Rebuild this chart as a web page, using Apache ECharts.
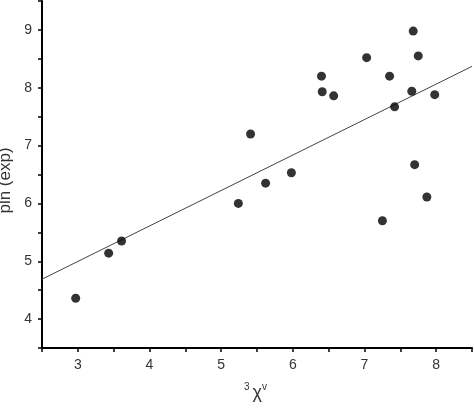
<!DOCTYPE html>
<html lang="en">
<head>
  <meta charset="UTF-8" />
  <title>pln (exp) vs 3χv</title>
  <script src="https://cdn.jsdelivr.net/npm/echarts@6.0.0/dist/echarts.min.js"></script>
  <style>
    html, body { margin: 0; padding: 0; background: #fff; }
    #chart { width: 474px; height: 420px; }
  </style>
</head>
<body>
  <div id="chart"></div>
  <script>
    // measured points: [3χv, pln(exp)]
    const chiValues = [2.97, 3.43, 3.61, 5.24, 5.41, 5.62, 5.98, 6.40, 6.41, 6.57,
                       7.03, 7.25, 7.35, 7.42, 7.66, 7.68, 7.70, 7.75, 7.87, 7.98];
    const plnValues = [4.36, 5.14, 5.35, 6.00, 7.20, 6.35, 6.53, 8.20, 7.93, 7.86,
                       8.52, 5.70, 8.20, 7.67, 7.94, 8.98, 6.67, 8.55, 6.11, 7.88];
    // fitted line end points
    const fitX = [2.5, 8.5];
    const fitY = [4.69, 8.37];

    const points = chiValues.map((x, i) => [x, plnValues[i]]);
    const fitLine = fitX.map((x, i) => [x, fitY[i]]);

    const labelFont = 'Liberation Sans, Arial, sans-serif';
    const onlyIntegers = v => (Math.abs(v - Math.round(v)) < 1e-6 ? String(Math.round(v)) : '');

    const chart = echarts.init(document.getElementById('chart'));
    chart.setOption({
      animation: false,
      backgroundColor: '#fff',
      grid: { left: 42, right: 2, top: 1, bottom: 72, containLabel: false, outerBoundsMode: 'none' },
      xAxis: {
        type: 'value',
        min: 2.5,
        max: 8.5,
        interval: 0.5,
        name: '{s|3}{c|χ}{s|v}',
        nameLocation: 'middle',
        nameGap: 34,
        nameTextStyle: {
          rich: {
            s: { fontSize: 10, color: '#333', fontFamily: labelFont, verticalAlign: 'top', padding: [0, 3, 0, 0] },
            c: { fontSize: 18, color: '#333', fontFamily: labelFont, lineHeight: 22 }
          }
        },
        axisLine: { onZero: false, lineStyle: { color: '#000', width: 2 } },
        axisTick: { show: true, inside: false, length: 4, lineStyle: { color: '#000', width: 1.5 } },
        axisLabel: { formatter: onlyIntegers, margin: 10, fontSize: 14, color: '#333', fontFamily: labelFont },
        splitLine: { show: false }
      },
      yAxis: {
        type: 'value',
        min: 3.5,
        max: 9.5,
        interval: 0.5,
        name: 'pln (exp)',
        nameLocation: 'middle',
        nameGap: 23,
        nameTextStyle: { fontSize: 17, color: '#333', fontFamily: labelFont, padding: [0, 12, 0, 0] },
        axisLine: { onZero: false, lineStyle: { color: '#000', width: 2 } },
        axisTick: { show: true, inside: false, length: 4, lineStyle: { color: '#000', width: 1.5 } },
        axisLabel: { formatter: onlyIntegers, margin: 10, fontSize: 14, color: '#333', fontFamily: labelFont },
        splitLine: { show: false }
      },
      series: [
        {
          type: 'line',
          data: fitLine,
          symbol: 'none',
          lineStyle: { color: '#444', width: 1 },
          silent: true,
          z: 1
        },
        {
          type: 'scatter',
          data: points,
          symbol: 'circle',
          symbolSize: 9,
          itemStyle: { color: '#000' },
          z: 2
        }
      ]
    });
  </script>
</body>
</html>
